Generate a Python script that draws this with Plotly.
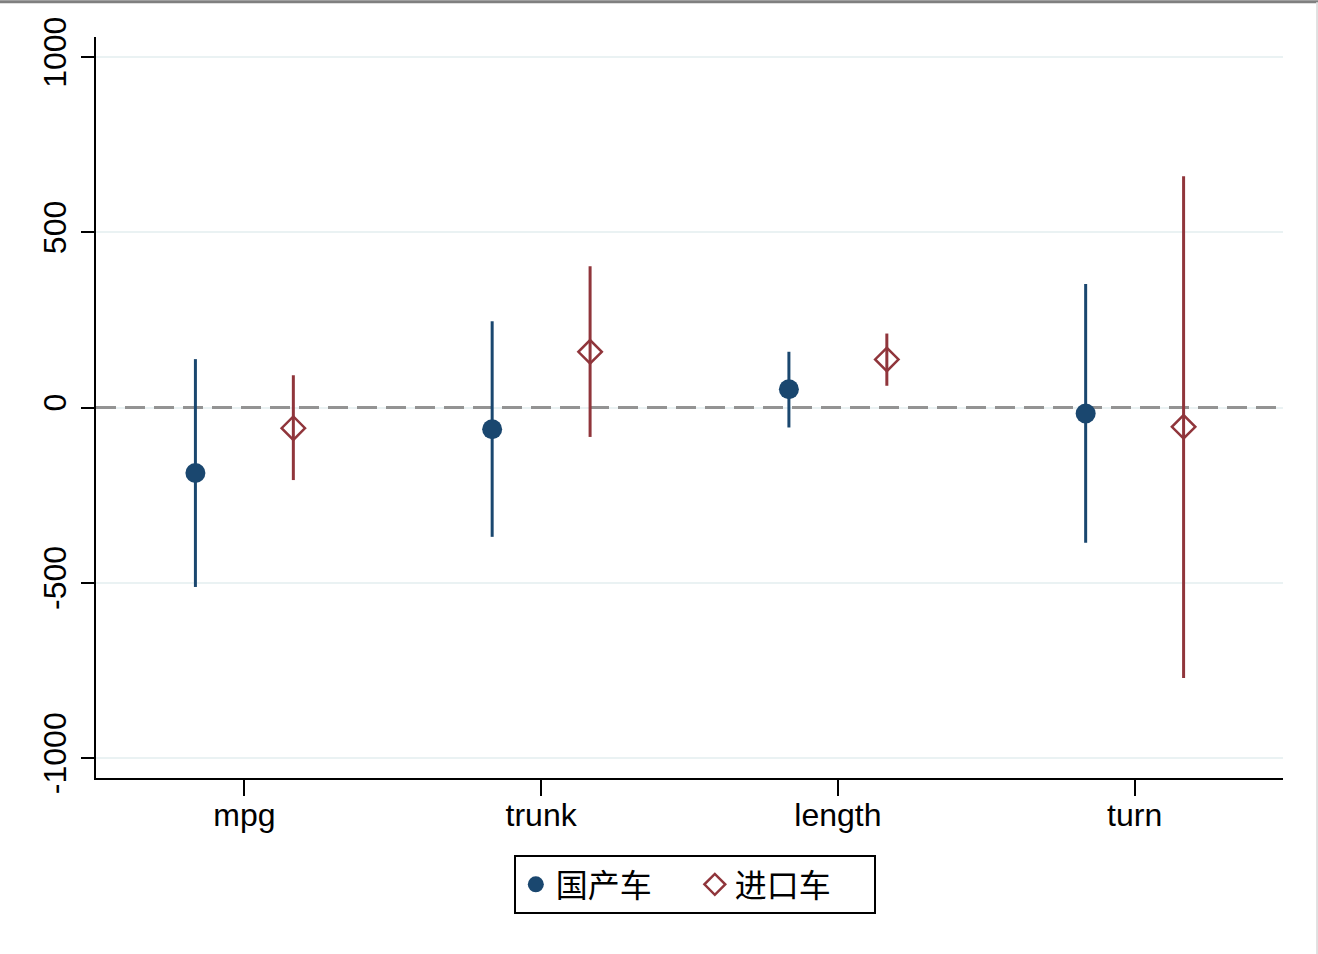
import plotly.graph_objects as go

categories = ["mpg", "trunk", "length", "turn"]

domestic_name = "国产车"
domestic_coef = [-187, -62, 52, -17]
domestic_hi = [138, 246, 159, 352]
domestic_lo = [-512, -369, -57, -386]

foreign_name = "进口车"
foreign_coef = [-59, 159, 137, -55]
foreign_hi = [92, 403, 211, 660]
foreign_lo = [-207, -84, 62, -772]

y_ticks = [-1000, -500, 0, 500, 1000]
y_tick_labels = ["-1000", "-500", "0", "500", "1000"]
reference_value = 0

NAVY = "#1a476f"
MAROON = "#90353b"
FONT = "Liberation Sans, Arial, Helvetica, Noto Sans CJK SC, sans-serif"

offset = 0.165
idx = list(range(len(categories)))
x_range = [-0.5, len(categories) - 0.5]

fig = go.Figure()

# zero reference line, drawn first so markers sit on top of it
fig.add_trace(go.Scatter(
    x=x_range, y=[reference_value, reference_value], mode="lines", showlegend=False,
    hoverinfo="skip", line=dict(color="#939393", width=3, dash="20px,9px"),
))

fig.add_trace(go.Scatter(
    x=[i - offset for i in idx], y=domestic_coef, name=domestic_name,
    mode="markers",
    marker=dict(symbol="circle", size=20, color=NAVY, line=dict(width=0)),
    error_y=dict(type="data", symmetric=False,
                 array=[h - c for h, c in zip(domestic_hi, domestic_coef)],
                 arrayminus=[c - l for l, c in zip(domestic_lo, domestic_coef)],
                 color=NAVY, thickness=3, width=0),
))
fig.add_trace(go.Scatter(
    x=[i + offset for i in idx], y=foreign_coef, name=foreign_name,
    mode="markers",
    marker=dict(symbol="diamond-open", size=18, color=MAROON, line=dict(width=2.5, color=MAROON)),
    error_y=dict(type="data", symmetric=False,
                 array=[h - c for h, c in zip(foreign_hi, foreign_coef)],
                 arrayminus=[c - l for l, c in zip(foreign_lo, foreign_coef)],
                 color=MAROON, thickness=3, width=0),
))

# frame edges of the original screenshot
fig.add_shape(type="line", xref="paper", yref="paper", x0=-0.09, x1=1.04, y0=1.0475, y1=1.0475,
              line=dict(color="#808080", width=3))
fig.add_shape(type="line", xref="paper", yref="paper", x0=1.0287, x1=1.0287, y0=-0.25, y1=1.047,
              line=dict(color="#e0e0e0", width=2))

fig.update_layout(
    width=1318, height=954,
    margin=dict(l=96, r=35, t=37, b=176),
    paper_bgcolor="white", plot_bgcolor="white",
    font=dict(family=FONT, size=32, color="black"),
    showlegend=True,
    legend=dict(orientation="h", x=0.352, xanchor="left", y=-0.104, yanchor="top",
                bordercolor="black", borderwidth=2, bgcolor="white",
                font=dict(size=32, family="Liberation Sans, Noto Sans CJK SC"),
                itemsizing="trace", entrywidth=134, entrywidthmode="pixels"),
    xaxis=dict(range=x_range, tickmode="array", tickvals=idx, ticktext=categories,
               showgrid=False, zeroline=False, showline=True, linecolor="black", linewidth=2,
               ticks="outside", ticklen=16, tickwidth=2, tickcolor="black",
               tickfont=dict(size=32), ticklabelstandoff=-8),
    yaxis=dict(range=[-1057, 1057], tickmode="array", tickvals=y_ticks, ticktext=y_tick_labels,
               showgrid=True, gridcolor="#eaf2f3", gridwidth=2, zeroline=False,
               showline=True, linecolor="black", linewidth=2,
               ticks="outside", ticklen=13, tickwidth=2, tickcolor="black",
               tickangle=-90, tickfont=dict(size=32), ticklabelstandoff=2),
)

fig.write_html("out.html", config={"displayModeBar": False},
               post_script="document.body.style.margin='0';")
